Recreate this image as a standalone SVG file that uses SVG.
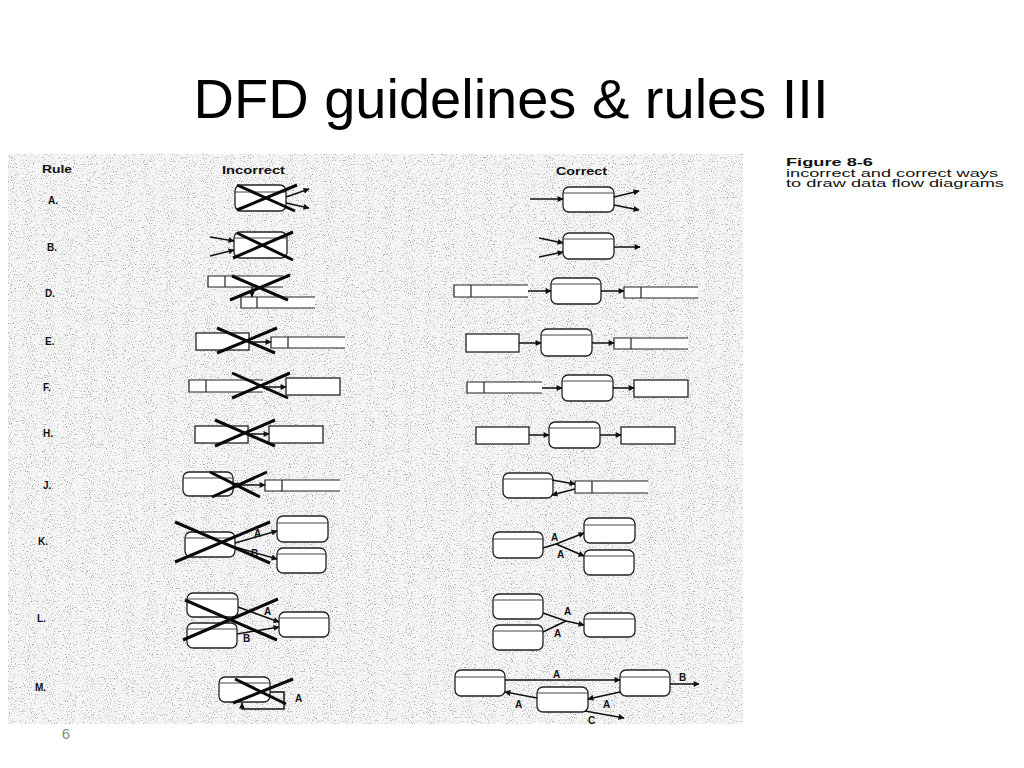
<svg xmlns="http://www.w3.org/2000/svg" width="1024" height="768" viewBox="0 0 1024 768">
<defs>
<filter id="grain" x="0" y="0" width="100%" height="100%" filterUnits="objectBoundingBox">
<feTurbulence type="fractalNoise" baseFrequency="0.95 0.7" numOctaves="2" seed="7" result="n"/>
<feColorMatrix in="n" type="matrix" values="0 0 0 0 0.35  0 0 0 0 0.35  0 0 0 0 0.35  -4 0 0 0 1.75"/>
</filter>
<marker id="ah" viewBox="0 0 10 10" refX="9" refY="5" markerWidth="8" markerHeight="6" markerUnits="userSpaceOnUse" orient="auto-start-reverse">
<path d="M0,0 L10,5 L0,10 z" fill="#111"/>
</marker>
<style>
.proc rect{fill:#fff;stroke:#222;stroke-width:1.3}
.proc line{stroke:#444;stroke-width:1}
.ent rect{fill:#fff;stroke:#222;stroke-width:1.3}
.store rect{fill:#fff;stroke:none}
.store path{fill:none;stroke:#222;stroke-width:1.2}
.flow{fill:none;stroke:#111;stroke-width:1.5;marker-end:url(#ah)}
.line{fill:none;stroke:#111;stroke-width:1.5}
.cross line{stroke:#0a0a0a;stroke-width:3;stroke-linecap:butt}
.hd{font-family:"Liberation Sans",Arial,sans-serif;font-weight:bold;font-size:10px;fill:#111}
.lb{font-family:"Liberation Sans",Arial,sans-serif;font-weight:bold;font-size:10px;fill:#111}
.cap{font-family:"Liberation Sans",Arial,sans-serif;font-size:10.5px;fill:#111}
</style>
</defs>
<rect width="1024" height="768" fill="#fff"/>
<text x="511" y="118" text-anchor="middle" font-family="'Liberation Sans',Arial,sans-serif" font-size="56" fill="#000">DFD guidelines &amp; rules III</text>

<g id="scan">
<rect x="8" y="154" width="735" height="570" fill="#f6f6f6"/>
<rect x="8" y="154" width="735" height="570" fill="#fff" filter="url(#grain)"/>
</g>

<g id="caption">
<text class="cap" x="786" y="166" font-weight="bold" textLength="87" lengthAdjust="spacingAndGlyphs">Figure 8-6</text>
<text class="cap" x="786" y="177" textLength="212" lengthAdjust="spacingAndGlyphs">incorrect and correct ways</text>
<text class="cap" x="786" y="187" textLength="218" lengthAdjust="spacingAndGlyphs">to draw data flow diagrams</text>
</g>

<g id="headers">
<text class="hd" x="42" y="173" textLength="30" lengthAdjust="spacingAndGlyphs">Rule</text>
<text class="hd" x="222" y="174" textLength="63" lengthAdjust="spacingAndGlyphs">Incorrect</text>
<text class="hd" x="556" y="175" textLength="51" lengthAdjust="spacingAndGlyphs">Correct</text>
<text class="hd" x="48" y="204">A.</text>
<text class="hd" x="47" y="251">B.</text>
<text class="hd" x="45" y="297">D.</text>
<text class="hd" x="45" y="345">E.</text>
<text class="hd" x="43" y="391">F.</text>
<text class="hd" x="43" y="437">H.</text>
<text class="hd" x="43" y="489">J.</text>
<text class="hd" x="38" y="545">K.</text>
<text class="hd" x="37" y="622">L.</text>
<text class="hd" x="35" y="691">M.</text>
</g>

<!-- ===== Incorrect column ===== -->
<g id="iA-proc" class="proc"><rect x="235" y="185" width="51" height="26" rx="6"/><line x1="235" y1="192" x2="286" y2="192"/></g>
<g id="iB-proc" class="proc"><rect x="234" y="232" width="53" height="26" rx="6"/><line x1="234" y1="238" x2="287" y2="238"/></g>
<g id="iD-store1" class="store"><rect x="208" y="276" width="75" height="11"/><path d="M283,276 H208 V287 H283 M225,276 V287"/></g>
<g id="iD-store2" class="store"><rect x="241" y="297" width="74" height="11"/><path d="M315,297 H241 V308 H315 M257,297 V308"/></g>
<g id="iE-ent" class="ent"><rect x="196" y="333" width="53" height="17"/></g>
<g id="iE-store" class="store"><rect x="271" y="337" width="74" height="11"/><path d="M345,337 H271 V348 H345 M288,337 V348"/></g>
<g id="iF-store" class="store"><rect x="189" y="380" width="74" height="12"/><path d="M263,380 H189 V392 H263 M206,380 V392"/></g>
<g id="iF-ent" class="ent"><rect x="286" y="378" width="54" height="17"/></g>
<g id="iH-ent1" class="ent"><rect x="195" y="426" width="53" height="17"/></g>
<g id="iH-ent2" class="ent"><rect x="269" y="426" width="54" height="17"/></g>
<g id="iJ-proc" class="proc"><rect x="183" y="472" width="50" height="24" rx="6"/><line x1="183" y1="478" x2="233" y2="478"/></g>
<g id="iJ-store" class="store"><rect x="265" y="480" width="75" height="11"/><path d="M340,480 H265 V491 H340 M282,480 V491"/></g>
<g id="iK-proc1" class="proc"><rect x="185" y="532" width="50" height="25" rx="6"/><line x1="185" y1="538" x2="235" y2="538"/></g>
<g id="iK-proc2" class="proc"><rect x="277" y="516" width="51" height="26" rx="6"/><line x1="277" y1="523" x2="328" y2="523"/></g>
<g id="iK-proc3" class="proc"><rect x="277" y="548" width="49" height="25" rx="6"/><line x1="277" y1="554" x2="326" y2="554"/></g>
<g id="iL-proc1" class="proc"><rect x="187" y="593" width="51" height="24" rx="6"/><line x1="187" y1="599" x2="238" y2="599"/></g>
<g id="iL-proc2" class="proc"><rect x="187" y="623" width="50" height="25" rx="6"/><line x1="187" y1="629" x2="237" y2="629"/></g>
<g id="iL-proc3" class="proc"><rect x="279" y="612" width="50" height="25" rx="6"/><line x1="279" y1="618" x2="329" y2="618"/></g>
<g id="iM-proc" class="proc"><rect x="219" y="677" width="51" height="25" rx="6"/><line x1="219" y1="683" x2="270" y2="683"/></g>

<!-- ===== Correct column ===== -->
<g id="cA-proc" class="proc"><rect x="563" y="187" width="51" height="25" rx="6"/><line x1="563" y1="193" x2="614" y2="193"/></g>
<g id="cB-proc" class="proc"><rect x="563" y="233" width="51" height="26" rx="6"/><line x1="563" y1="239" x2="614" y2="239"/></g>
<g id="cD-store1" class="store"><rect x="454" y="285" width="74" height="12"/><path d="M528,285 H454 V297 H528 M471,285 V297"/></g>
<g id="cD-proc" class="proc"><rect x="551" y="278" width="50" height="26" rx="6"/><line x1="551" y1="284" x2="601" y2="284"/></g>
<g id="cD-store2" class="store"><rect x="624" y="287" width="74" height="11"/><path d="M698,287 H624 V298 H698 M641,287 V298"/></g>
<g id="cE-ent" class="ent"><rect x="466" y="334" width="53" height="18"/></g>
<g id="cE-proc" class="proc"><rect x="541" y="329" width="51" height="27" rx="6"/><line x1="541" y1="335" x2="592" y2="335"/></g>
<g id="cE-store" class="store"><rect x="614" y="338" width="74" height="11"/><path d="M688,338 H614 V349 H688 M631,338 V349"/></g>
<g id="cF-store" class="store"><rect x="467" y="382" width="75" height="11"/><path d="M542,382 H467 V393 H542 M484,382 V393"/></g>
<g id="cF-proc" class="proc"><rect x="562" y="375" width="51" height="26" rx="6"/><line x1="562" y1="381" x2="613" y2="381"/></g>
<g id="cF-ent" class="ent"><rect x="634" y="380" width="54" height="17"/></g>
<g id="cH-ent1" class="ent"><rect x="476" y="427" width="53" height="17"/></g>
<g id="cH-proc" class="proc"><rect x="549" y="422" width="51" height="26" rx="6"/><line x1="549" y1="428" x2="600" y2="428"/></g>
<g id="cH-ent2" class="ent"><rect x="621" y="427" width="54" height="17"/></g>
<g id="cJ-proc" class="proc"><rect x="503" y="473" width="50" height="25" rx="6"/><line x1="503" y1="479" x2="553" y2="479"/></g>
<g id="cJ-store" class="store"><rect x="575" y="481" width="73" height="12"/><path d="M648,481 H575 V493 H648 M592,481 V493"/></g>
<g id="cK-proc1" class="proc"><rect x="493" y="532" width="50" height="26" rx="6"/><line x1="493" y1="539" x2="543" y2="539"/></g>
<g id="cK-proc2" class="proc"><rect x="584" y="518" width="51" height="25" rx="6"/><line x1="584" y1="525" x2="635" y2="525"/></g>
<g id="cK-proc3" class="proc"><rect x="584" y="550" width="50" height="25" rx="6"/><line x1="584" y1="556" x2="634" y2="556"/></g>
<g id="cL-proc1" class="proc"><rect x="493" y="594" width="50" height="25" rx="6"/><line x1="493" y1="600" x2="543" y2="600"/></g>
<g id="cL-proc2" class="proc"><rect x="493" y="625" width="50" height="25" rx="6"/><line x1="493" y1="631" x2="543" y2="631"/></g>
<g id="cL-proc3" class="proc"><rect x="584" y="613" width="51" height="24" rx="6"/><line x1="584" y1="619" x2="635" y2="619"/></g>
<g id="cM-proc1" class="proc"><rect x="455" y="670" width="50" height="26" rx="6"/><line x1="455" y1="677" x2="505" y2="677"/></g>
<g id="cM-proc2" class="proc"><rect x="620" y="670" width="50" height="26" rx="6"/><line x1="620" y1="677" x2="670" y2="677"/></g>
<g id="cM-proc3" class="proc"><rect x="537" y="687" width="51" height="25" rx="6"/><line x1="537" y1="693" x2="588" y2="693"/></g>

<g id="connectors">
<!-- incorrect -->
<line class="flow" x1="286" y1="197" x2="309" y2="189"/>
<line class="flow" x1="286" y1="203" x2="309" y2="208"/>
<line class="flow" x1="210" y1="237" x2="234" y2="241"/>
<line class="flow" x1="210" y1="256" x2="234" y2="250"/>
<line class="flow" x1="252" y1="287" x2="252" y2="297"/>
<line class="flow" x1="249" y1="342" x2="271" y2="342"/>
<line class="flow" x1="263" y1="387" x2="286" y2="387"/>
<line class="flow" x1="248" y1="434" x2="269" y2="434"/>
<line class="flow" x1="233" y1="485" x2="265" y2="485" marker-start="url(#ah)"/>
<line class="flow" x1="235" y1="543" x2="277" y2="531"/>
<line class="flow" x1="235" y1="547" x2="277" y2="559"/>
<line class="flow" x1="238" y1="607" x2="279" y2="622"/>
<line class="flow" x1="237" y1="634" x2="279" y2="627"/>
<path class="flow" d="M270,692 H284 V709 H242 V703"/>
<!-- correct -->
<line class="flow" x1="530" y1="199" x2="563" y2="199"/>
<line class="flow" x1="614" y1="197" x2="639" y2="191"/>
<line class="flow" x1="614" y1="205" x2="639" y2="210"/>
<line class="flow" x1="539" y1="238" x2="563" y2="243"/>
<line class="flow" x1="539" y1="257" x2="563" y2="252"/>
<line class="flow" x1="614" y1="247" x2="640" y2="247"/>
<line class="flow" x1="528" y1="291" x2="551" y2="291"/>
<line class="flow" x1="601" y1="291" x2="624" y2="291"/>
<line class="flow" x1="519" y1="343" x2="541" y2="343"/>
<line class="flow" x1="592" y1="343" x2="614" y2="343"/>
<line class="flow" x1="542" y1="388" x2="562" y2="388"/>
<line class="flow" x1="613" y1="388" x2="634" y2="388"/>
<line class="flow" x1="529" y1="435" x2="549" y2="435"/>
<line class="flow" x1="600" y1="435" x2="621" y2="435"/>
<line class="flow" x1="552" y1="480" x2="575" y2="484"/>
<line class="flow" x1="575" y1="489" x2="552" y2="495"/>
<line class="line" x1="543" y1="548" x2="556" y2="544"/>
<line class="flow" x1="556" y1="544" x2="584" y2="533"/>
<line class="flow" x1="556" y1="544" x2="584" y2="556"/>
<line class="line" x1="543" y1="613" x2="566" y2="621"/>
<line class="line" x1="543" y1="632" x2="566" y2="621"/>
<line class="flow" x1="566" y1="621" x2="584" y2="625"/>
<line class="flow" x1="505" y1="680" x2="620" y2="680"/>
<line class="flow" x1="670" y1="684" x2="699" y2="684"/>
<line class="flow" x1="620" y1="692" x2="588" y2="699"/>
<line class="flow" x1="537" y1="698" x2="505" y2="692"/>
<line class="flow" x1="585" y1="711" x2="624" y2="718"/>
</g>

<g id="flow-labels">
<text class="lb" x="254" y="537">A</text>
<text class="lb" x="251" y="557">B</text>
<text class="lb" x="264" y="615">A</text>
<text class="lb" x="243" y="642">B</text>
<text class="lb" x="295" y="702">A</text>
<text class="lb" x="551" y="541">A</text>
<text class="lb" x="557" y="558">A</text>
<text class="lb" x="564" y="615">A</text>
<text class="lb" x="554" y="637">A</text>
<text class="lb" x="553" y="678">A</text>
<text class="lb" x="679" y="681">B</text>
<text class="lb" x="603" y="708">A</text>
<text class="lb" x="515" y="708">A</text>
<text class="lb" x="588" y="724">C</text>
</g>

<g id="crosses" class="cross">
<line x1="237" y1="185" x2="295" y2="211"/><line x1="237" y1="210" x2="297" y2="185"/>
<line x1="233" y1="258" x2="293" y2="232"/><line x1="237" y1="233" x2="293" y2="260"/>
<line x1="230" y1="300" x2="290" y2="275"/><line x1="232" y1="276" x2="288" y2="300"/>
<line x1="217" y1="328" x2="275" y2="353"/><line x1="217" y1="353" x2="277" y2="328"/>
<line x1="232" y1="373" x2="288" y2="398"/><line x1="232" y1="398" x2="290" y2="373"/>
<line x1="215" y1="420" x2="275" y2="446"/><line x1="215" y1="446" x2="275" y2="420"/>
<line x1="210" y1="472" x2="260" y2="497"/><line x1="212" y1="497" x2="267" y2="472"/>
<line x1="175" y1="522" x2="270" y2="563"/><line x1="175" y1="562" x2="270" y2="522"/>
<line x1="185" y1="600" x2="277" y2="640"/><line x1="183" y1="640" x2="278" y2="599"/>
<line x1="235" y1="679" x2="286" y2="704"/><line x1="233" y1="703" x2="293" y2="679"/>
</g>

<text x="66" y="739" text-anchor="middle" font-family="'Liberation Sans',Arial,sans-serif" font-size="15" fill="#8a8a8a">6</text>
</svg>
